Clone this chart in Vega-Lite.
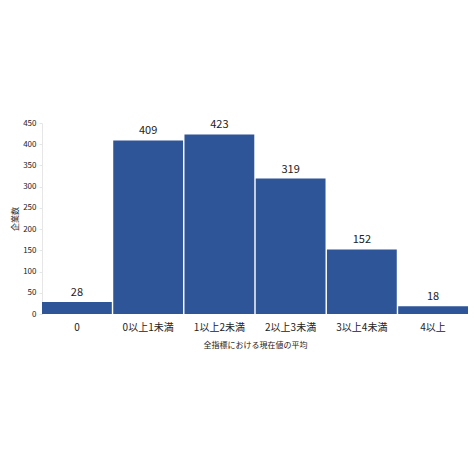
{
  "$schema": "https://vega.github.io/schema/vega-lite/v6.json",
  "autosize": "none",
  "width": 426,
  "height": 191,
  "padding": {"left": 42, "top": 123, "right": 6, "bottom": 160},
  "background": "white",
  "config": {
    "view": {"stroke": null},
    "font": "Noto Sans CJK JP"
  },
  "data": {
    "values": [
      {"category": "0", "count": 28},
      {"category": "0以上1未満", "count": 409},
      {"category": "1以上2未満", "count": 423},
      {"category": "2以上3未満", "count": 319},
      {"category": "3以上4未満", "count": 152},
      {"category": "4以上", "count": 18}
    ]
  },
  "encoding": {
    "x": {
      "field": "category",
      "type": "nominal",
      "sort": null,
      "title": "全指標における現在値の平均",
      "scale": {"paddingInner": 0.02, "paddingOuter": 0},
      "axis": {
        "labelAngle": 0,
        "labelFontSize": 10,
        "labelColor": "#222222",
        "labelPadding": 8,
        "ticks": false,
        "domain": false,
        "titleFontSize": 8,
        "titleFontWeight": "normal",
        "titleColor": "#222222",
        "titlePadding": 9
      }
    },
    "y": {
      "field": "count",
      "type": "quantitative",
      "title": "企業数",
      "scale": {"domain": [0, 450]},
      "axis": {
        "values": [0, 50, 100, 150, 200, 250, 300, 350, 400, 450],
        "grid": false,
        "domainColor": "#e6e6e6",
        "tickColor": "#e6e6e6",
        "tickSize": 3,
        "labelFontSize": 8,
        "labelColor": "#222222",
        "labelPadding": 3,
        "titleFontSize": 8,
        "titleFontWeight": "normal",
        "titleColor": "#222222",
        "titlePadding": 3
      }
    }
  },
  "layer": [
    {
      "mark": {"type": "bar", "color": "#2E5597"}
    },
    {
      "mark": {"type": "text", "dy": -9, "fontSize": 11, "color": "#222222"},
      "encoding": {"text": {"field": "count", "type": "quantitative"}}
    }
  ]
}
